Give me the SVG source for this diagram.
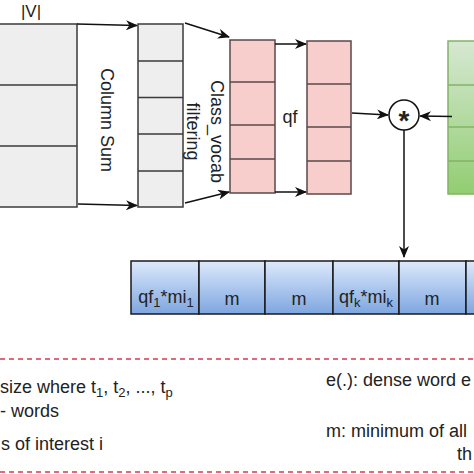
<svg xmlns="http://www.w3.org/2000/svg" width="474" height="474" viewBox="0 0 474 474">
<defs>
<marker id="arr" markerWidth="12" markerHeight="10" refX="11" refY="5" orient="auto" markerUnits="userSpaceOnUse">
<path d="M0,0 L12,5 L0,10 L3.5,5 z" fill="#111"/>
</marker>
<linearGradient id="blue" x1="0" y1="0" x2="0" y2="1">
<stop offset="0" stop-color="#dde9fb"/>
<stop offset="1" stop-color="#7ea6e0"/>
</linearGradient>
<linearGradient id="green" x1="0" y1="0" x2="0" y2="1">
<stop offset="0" stop-color="#d6e8d2"/>
<stop offset="1" stop-color="#92cd72"/>
</linearGradient>
</defs>
<style>
text{font-family:"Liberation Sans",Arial,sans-serif;fill:#222}
.gray{fill:#eeeeee;stroke:#3a3a3a;stroke-width:1.5}
.pink{fill:#f8cecc;stroke:#5a4848;stroke-width:1.5}
.grn{fill:url(#green);stroke:#82b366;stroke-width:1.5}
.blu{fill:url(#blue);stroke:#1a1a1a;stroke-width:1.5}
.edge{fill:none;stroke:#111;stroke-width:1.5;marker-end:url(#arr)}
.dash{stroke:#e06a78;stroke-width:2;stroke-dasharray:5,4}
.lbl{font-size:18px}
.cell{font-size:18px;text-anchor:middle}
.note{font-size:18px}
</style>
<rect width="474" height="474" fill="#ffffff"/>

<g id="matrix">
<rect class="gray" x="-2" y="24" width="79" height="183"/>
<line class="gray" x1="-2" y1="85" x2="77" y2="85"/>
<line class="gray" x1="-2" y1="146" x2="77" y2="146"/>
<text x="31" y="17" font-size="17" text-anchor="middle">|V|</text>
</g>

<g id="colsum">
<rect class="gray" x="138" y="24" width="45" height="183"/>
<line class="gray" x1="138" y1="61" x2="183" y2="61"/>
<line class="gray" x1="138" y1="97.5" x2="183" y2="97.5"/>
<line class="gray" x1="138" y1="134" x2="183" y2="134"/>
<line class="gray" x1="138" y1="171" x2="183" y2="171"/>
</g>

<g id="pink1">
<rect class="pink" x="230" y="40" width="45" height="153"/>
<line class="pink" x1="230" y1="82" x2="275" y2="82"/>
<line class="pink" x1="230" y1="125" x2="275" y2="125"/>
<line class="pink" x1="230" y1="159" x2="275" y2="159"/>
</g>

<g id="pink2">
<rect class="pink" x="307" y="41" width="44" height="153"/>
<line class="pink" x1="307" y1="84" x2="351" y2="84"/>
<line class="pink" x1="307" y1="127" x2="351" y2="127"/>
<line class="pink" x1="307" y1="161" x2="351" y2="161"/>
</g>

<g id="green">
<rect class="grn" x="448" y="41" width="30" height="153"/>
<line class="grn" x1="448" y1="85" x2="478" y2="85"/>
<line class="grn" x1="448" y1="127" x2="478" y2="127"/>
<line class="grn" x1="448" y1="161" x2="478" y2="161"/>
</g>

<g id="mult">
<circle cx="404" cy="115" r="15" fill="#fff" stroke="#111" stroke-width="1.5"/>
<text x="404" y="130" font-size="28" font-weight="bold" text-anchor="middle">*</text>
</g>

<g id="result">
<rect class="blu" x="131" y="261" width="68" height="53"/>
<rect class="blu" x="199" y="261" width="66" height="53"/>
<rect class="blu" x="265" y="261" width="68" height="53"/>
<rect class="blu" x="333" y="261" width="66" height="53"/>
<rect class="blu" x="399" y="261" width="67" height="53"/>
<rect class="blu" x="466" y="261" width="20" height="53"/>
<text class="cell" x="166" y="303">qf<tspan font-size="13" dy="4">1</tspan><tspan dy="-4">*mi</tspan><tspan font-size="13" dy="4">1</tspan></text>
<text class="cell" x="232" y="305">m</text>
<text class="cell" x="299" y="305">m</text>
<text class="cell" x="366" y="303">qf<tspan font-size="13" dy="4">k</tspan><tspan dy="-4">*mi</tspan><tspan font-size="13" dy="4">k</tspan></text>
<text class="cell" x="432" y="305">m</text>
</g>

<g id="connectors">
<line class="edge" x1="77" y1="24" x2="137" y2="25.5"/>
<line class="edge" x1="78" y1="204" x2="137" y2="205.5"/>
<line class="edge" x1="185" y1="23" x2="229" y2="37"/>
<line class="edge" x1="185" y1="203" x2="229" y2="192"/>
<line class="edge" x1="275" y1="44" x2="306" y2="44"/>
<line class="edge" x1="275" y1="192" x2="306" y2="192"/>
<line class="edge" x1="352" y1="113" x2="388" y2="115"/>
<line class="edge" x1="452" y1="116.5" x2="420" y2="116"/>
<line class="edge" x1="404" y1="130" x2="404" y2="257"/>
</g>

<g id="labels">
<text class="lbl" transform="translate(107,120) rotate(90)" text-anchor="middle" y="6">Column Sum</text>
<text class="lbl" transform="translate(217,131.5) rotate(90)" text-anchor="middle" y="6">Class_vocab</text>
<text class="lbl" transform="translate(193,131.5) rotate(90)" text-anchor="middle" y="6">filtering</text>
<text x="290" y="123" font-size="18" text-anchor="middle">qf</text>
</g>

<g id="legend">
<line class="dash" x1="0" y1="359" x2="474" y2="359"/>
<line class="dash" x1="0" y1="472" x2="474" y2="472"/>
<text class="note" x="0" y="393">size where t<tspan font-size="13" dy="4">1</tspan><tspan dy="-4">, t</tspan><tspan font-size="13" dy="4">2</tspan><tspan dy="-4">, ..., t</tspan><tspan font-size="13" dy="4">p</tspan></text>
<text class="note" x="0" y="417">- words</text>
<text class="note" x="1" y="450">s of interest i</text>
<text class="note" x="326" y="386">e(.): dense word e</text>
<text class="note" x="326" y="437">m: minimum of all</text>
<text class="note" x="457" y="460">th</text>
</g>
</svg>
